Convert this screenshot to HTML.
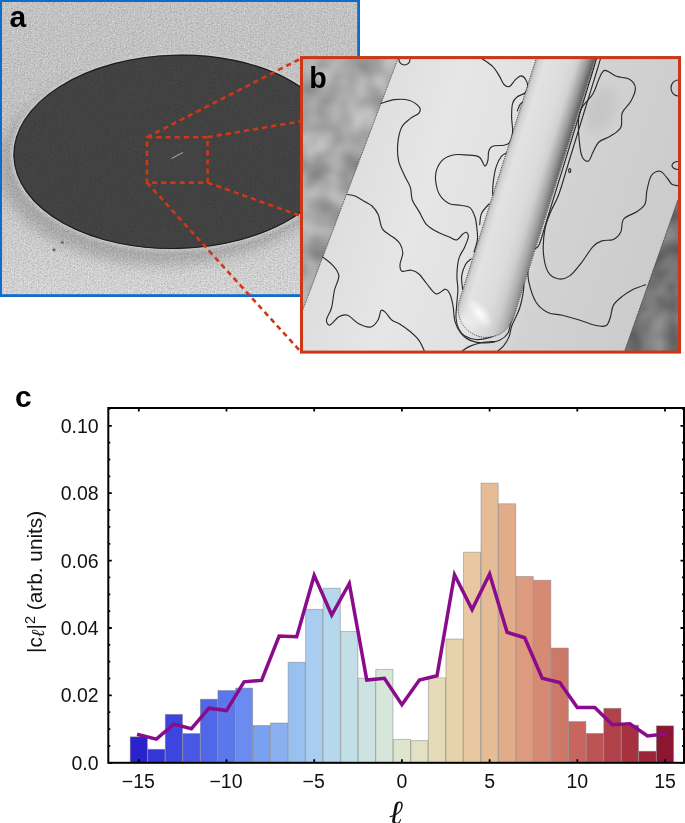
<!DOCTYPE html>
<html lang="en"><head><meta charset="utf-8"><title>Figure</title>
<style>
html,body{margin:0;padding:0;background:#fff;}
body{width:685px;height:823px;overflow:hidden;}
svg{display:block;}
text{font-family:"Liberation Sans",Arial,Helvetica,sans-serif;fill:#111;}
.lab{font-weight:bold;font-size:30px;fill:#000;}
.tk{font-size:19.5px;}
</style></head><body>
<svg width="685" height="823" viewBox="0 0 685 823">
<defs>
<filter id="grain" x="0" y="0" width="100%" height="100%" color-interpolation-filters="sRGB">
  <feTurbulence type="fractalNoise" baseFrequency="0.7" numOctaves="2" seed="3" result="n"/>
  <feColorMatrix in="n" type="matrix" values="0 0 0 0 0  0 0 0 0 0  0 0 0 0 0  0.9 0.9 0.9 0 -0.95" result="a"/>
  <feComposite in="a" in2="SourceGraphic" operator="in"/>
</filter>
<filter id="blotch" x="0" y="0" width="100%" height="100%" color-interpolation-filters="sRGB">
  <feTurbulence type="fractalNoise" baseFrequency="0.038" numOctaves="2" seed="7" result="n"/>
  <feGaussianBlur in="n" stdDeviation="1.6" result="nb"/>
  <feColorMatrix in="nb" type="matrix" values="0.44 0 0 0 0.44  0.44 0 0 0 0.44  0.44 0 0 0 0.44  0 0 0 0 1"/>
  <feComposite in2="SourceGraphic" operator="in"/>
</filter>
<filter id="blotch2" x="0" y="0" width="100%" height="100%" color-interpolation-filters="sRGB">
  <feTurbulence type="fractalNoise" baseFrequency="0.045" numOctaves="2" seed="11" result="n"/>
  <feGaussianBlur in="n" stdDeviation="1.4" result="nb"/>
  <feColorMatrix in="nb" type="matrix" values="0.32 0 0 0 0.30  0.32 0 0 0 0.30  0.32 0 0 0 0.30  0 0 0 0 1"/>
  <feComposite in2="SourceGraphic" operator="in"/>
</filter>
<filter id="soft"><feGaussianBlur stdDeviation="6"/></filter>
<filter id="soft1"><feGaussianBlur stdDeviation="1.3"/></filter>
<filter id="soft2"><feGaussianBlur stdDeviation="2.2"/></filter>
<linearGradient id="bgA" x1="0" y1="0" x2="0" y2="1">
  <stop offset="0" stop-color="#d5d5d5"/><stop offset="0.5" stop-color="#d4d4d4"/><stop offset="0.8" stop-color="#dedede"/><stop offset="1" stop-color="#e6e6e6"/>
</linearGradient>
<linearGradient id="rodG" x1="0" y1="0" x2="1" y2="0">
  <stop offset="0" stop-color="#b2b2b2"/>
  <stop offset="0.05" stop-color="#d2d2d2"/>
  <stop offset="0.16" stop-color="#e2e2e2"/>
  <stop offset="0.55" stop-color="#dcdcdc"/>
  <stop offset="0.76" stop-color="#cecece"/>
  <stop offset="0.9" stop-color="#b4b4b4"/>
  <stop offset="1" stop-color="#949494"/>
</linearGradient>
<linearGradient id="rodD" x1="0" y1="0" x2="1" y2="0">
  <stop offset="0" stop-color="#333" stop-opacity="0"/>
  <stop offset="0.70" stop-color="#333" stop-opacity="0"/>
  <stop offset="0.86" stop-color="#333" stop-opacity="0.22"/>
  <stop offset="0.96" stop-color="#333" stop-opacity="0.5"/>
  <stop offset="1" stop-color="#333" stop-opacity="0.6"/>
</linearGradient>
<linearGradient id="rodM" x1="0" y1="0" x2="0" y2="1">
  <stop offset="0" stop-color="#fff"/>
  <stop offset="0.45" stop-color="#fff" stop-opacity="0.85"/>
  <stop offset="0.8" stop-color="#fff" stop-opacity="0.25"/>
  <stop offset="1" stop-color="#fff" stop-opacity="0"/>
</linearGradient>
<mask id="rodMask" maskUnits="userSpaceOnUse" x="-40" y="-340" width="80" height="380">
  <rect x="-28" y="-330" width="56" height="358" rx="28" ry="28" fill="url(#rodM)"/>
</mask>
<linearGradient id="bandG" gradientUnits="userSpaceOnUse" x1="340" y1="150" x2="690" y2="260">
  <stop offset="0" stop-color="#dcdcdc"/><stop offset="0.25" stop-color="#e6e6e6"/>
  <stop offset="0.5" stop-color="#e0e0e0"/><stop offset="0.62" stop-color="#d2d2d2"/><stop offset="1" stop-color="#cacaca"/>
</linearGradient>
<linearGradient id="texG" x1="0" y1="0" x2="0" y2="1">
  <stop offset="0" stop-color="#fff" stop-opacity="0.06"/><stop offset="0.5" stop-color="#000" stop-opacity="0.05"/><stop offset="1" stop-color="#fff" stop-opacity="0.06"/>
</linearGradient>
<radialGradient id="tipG" cx="0.5" cy="0.5" r="0.5">
  <stop offset="0" stop-color="#fff" stop-opacity="0.95"/><stop offset="1" stop-color="#fff" stop-opacity="0"/>
</radialGradient>
<clipPath id="clipA"><rect x="1.5" y="1.5" width="357" height="294"/></clipPath>
<clipPath id="clipB"><rect x="301.5" y="57.5" width="378" height="294"/></clipPath>
</defs>
<rect width="685" height="823" fill="#fff"/>

<g id="panelA">
<rect x="0" y="0" width="360" height="297" fill="url(#bgA)"/>
<g clip-path="url(#clipA)">
<ellipse cx="168" cy="163" rx="170" ry="102" transform="rotate(-1.54 176.8 151.8)" fill="#adadad" opacity="0.75" filter="url(#soft)"/>
<ellipse cx="176.8" cy="151.8" rx="165" ry="98.7" transform="rotate(-1.54 176.8 151.8)" fill="none" stroke="#dcdcdc" stroke-width="4" opacity="0.55" filter="url(#soft1)"/>
<rect x="0" y="0" width="360" height="297" fill="#000" opacity="0.22" filter="url(#grain)"/>
<ellipse cx="176.8" cy="151.8" rx="163.9" ry="97.6" transform="rotate(-1.54 176.8 151.8)" fill="#484848" stroke="#dadada" stroke-opacity="0.75" stroke-width="1.5"/>
<ellipse cx="176.8" cy="151.8" rx="162.9" ry="96.6" transform="rotate(-1.54 176.8 151.8)" fill="none" stroke="#1e1e1e" stroke-width="1.1"/>
<ellipse cx="176.8" cy="151.8" rx="163.9" ry="97.6" transform="rotate(-1.54 176.8 151.8)" fill="#fff" opacity="0.2" filter="url(#grain)"/>
<rect x="152" y="142" width="50" height="36" fill="#4e4e4e" opacity="0.2" filter="url(#soft2)"/>
<line x1="171.5" y1="158.5" x2="183" y2="152.5" stroke="#bdbdbd" stroke-width="0.9"/>
<circle cx="54" cy="249.8" r="1.6" fill="#6a6a6a"/><circle cx="62.3" cy="242.5" r="1.5" fill="#707070"/>
</g>
<rect x="0.6" y="0.6" width="358" height="295" fill="none" stroke="#0f6cca" stroke-width="2.8"/>
<text class="lab" x="9.4" y="26.9">a</text>
</g>
<g fill="none" stroke="#cf3715" stroke-width="2.6" stroke-dasharray="5.2 4">
<rect x="147" y="137.2" width="60.6" height="45.4"/>
<line x1="147" y1="137.2" x2="301" y2="58.5"/>
<line x1="207.6" y1="137.2" x2="670" y2="58.5"/>
<line x1="207.6" y1="182.6" x2="681" y2="352"/>
<line x1="147" y1="182.6" x2="301" y2="352"/>
</g>
<g id="panelB">
<rect x="300" y="56" width="381" height="297" fill="#9a9a9a"/>
<g clip-path="url(#clipB)">
<rect x="300" y="56" width="381" height="297" fill="#fff" filter="url(#blotch)"/>
<rect x="300" y="56" width="110" height="297" fill="url(#texG)"/>
<polygon points="399,56 735,56 624,353 286.4,353" fill="url(#bandG)"/>
<polygon points="728.6,56 735,56 735,353 624,353" fill="#777"/>
<g><polygon points="728.6,56 735,56 735,353 624,353" fill="#fff" filter="url(#blotch2)"/></g>
<ellipse cx="600" cy="110" rx="14" ry="24" transform="rotate(25 600 110)" fill="#999" opacity="0.2" filter="url(#soft)"/>
<line x1="399" y1="56" x2="286.4" y2="353" stroke="#444" stroke-width="0.8" stroke-dasharray="1.5 1"/>
<line x1="728.6" y1="56" x2="624" y2="353" stroke="#444" stroke-width="0.8" stroke-dasharray="1.5 1"/>
<g fill="none" stroke="#2a2a2a" stroke-width="1.15" stroke-linejoin="round" stroke-linecap="round">
<path d="M381.1 103.4C383.3 102.8 389.7 100.1 394.3 99.6C398.9 99.1 404.8 99.0 408.9 100.2C413.0 101.4 417.4 104.8 419.1 106.9C420.8 109.0 420.6 110.8 419.1 112.8C417.6 114.8 413.2 116.2 410.3 118.6C407.4 121.0 403.7 123.3 401.6 127.4C399.5 131.5 398.3 137.8 397.8 143.4C397.3 149.0 397.5 155.6 398.6 160.9C399.7 166.2 402.6 171.1 404.5 175.5C406.4 179.9 409.0 183.1 410.3 187.2C411.6 191.3 410.9 196.0 412.3 200.0C413.8 204.0 416.6 207.3 419.0 211.4C421.4 215.5 423.4 221.2 426.6 224.7C429.8 228.2 434.2 230.2 438.0 232.3C441.8 234.4 446.2 235.7 449.3 237.0C452.4 238.3 454.7 240.4 456.9 239.9C459.1 239.4 461.0 235.5 462.6 234.2C464.2 232.9 465.4 231.8 466.4 232.3C467.3 232.8 468.6 234.5 468.3 237.0C468.0 239.5 466.1 243.8 464.5 247.4C462.9 251.0 460.1 254.1 458.8 258.8C457.5 263.6 457.0 270.8 456.9 275.9C456.8 281.0 457.9 284.8 457.9 289.2C457.9 293.6 457.2 297.8 456.9 302.5C456.6 307.2 455.7 313.3 456.0 317.7C456.3 322.1 457.4 326.0 458.8 329.0C460.2 332.0 461.6 333.9 464.5 335.7C467.4 337.4 471.8 339.2 475.9 339.5C480.0 339.8 485.4 338.7 489.2 337.6C493.0 336.5 496.3 334.2 498.7 332.8C501.1 331.4 502.6 329.6 503.4 329.0"/>
<path d="M347.6 194.5C348.8 194.8 352.0 194.8 354.9 196.0C357.8 197.2 362.2 200.1 365.1 201.8C368.0 203.5 369.8 203.9 372.0 206.0C374.2 208.1 376.4 210.7 378.2 214.6C380.0 218.5 379.9 225.3 382.6 229.2C385.3 233.1 391.4 235.6 394.3 238.0C397.2 240.4 398.6 241.2 400.0 243.7C401.4 246.2 402.8 249.6 402.8 253.1C402.8 256.6 400.1 261.5 400.0 264.5C399.9 267.5 400.0 270.2 401.9 271.2C403.8 272.1 408.5 269.7 411.4 270.2C414.2 270.7 416.5 271.8 419.0 274.0C421.5 276.2 423.8 280.2 426.6 283.5C429.5 286.8 433.0 292.9 436.1 293.9C439.2 294.8 443.1 289.0 445.5 289.2C447.9 289.4 449.0 292.0 450.3 294.9C451.6 297.8 452.3 301.9 453.1 306.3C453.9 310.7 453.7 317.1 455.0 321.5C456.3 325.9 458.2 329.7 460.7 332.8C463.2 335.9 466.1 338.7 470.2 340.4C474.2 342.1 480.0 343.1 485.0 343.0C490.0 342.9 496.2 341.7 500.0 340.0C503.8 338.3 506.2 336.0 508.0 333.0C509.8 330.0 509.7 326.4 511.0 322.0C512.3 317.6 514.5 311.4 515.8 306.3C517.1 301.2 518.1 293.6 518.6 291.1"/>
<path d="M322.7 256.9C324.4 258.4 330.3 262.5 333.0 265.7C335.7 268.9 338.6 271.8 338.8 275.9C339.0 280.0 335.6 285.1 334.4 290.5C333.2 295.9 332.8 303.1 331.5 308.0C330.2 312.9 326.8 316.9 326.5 319.7C326.2 322.5 327.9 325.5 330.0 325.0C332.1 324.5 335.9 318.4 338.8 316.8C341.7 315.2 344.2 314.1 347.6 315.3C351.0 316.5 355.3 322.2 359.2 324.1C363.1 326.1 367.7 327.7 370.9 327.0C374.1 326.3 376.5 322.5 378.2 319.7C379.9 316.9 379.9 311.6 381.1 310.4C382.3 309.2 383.8 310.8 385.5 312.4C387.2 313.9 389.0 317.7 391.4 319.7C393.8 321.7 397.0 322.4 400.0 324.3C403.0 326.2 406.3 328.3 409.5 331.0C412.7 333.7 416.5 336.9 419.0 340.4C421.5 343.9 423.8 349.9 424.7 351.8"/>
<path d="M482.2 58.8C483.9 60.1 489.8 63.6 492.6 66.4C495.5 69.2 497.4 72.9 499.3 75.9C501.2 78.9 502.3 82.8 504.0 84.5C505.7 86.2 507.8 87.2 509.7 86.4C511.6 85.6 513.5 81.5 515.4 79.7C517.3 78.0 519.4 75.9 521.1 75.9C522.8 75.9 524.7 77.8 525.8 79.7C526.9 81.6 527.9 85.1 527.7 87.3C527.6 89.5 526.6 91.4 524.9 93.0C523.2 94.6 519.3 95.1 517.3 96.8C515.2 98.5 513.5 100.1 512.6 103.4C511.7 106.7 511.6 112.0 511.6 116.7C511.6 121.5 512.9 127.6 512.6 131.9C512.3 136.2 511.1 140.2 509.7 142.4C508.3 144.6 506.9 144.6 504.0 145.2C501.1 145.8 495.1 145.2 492.6 146.2C490.1 147.1 489.6 148.5 488.8 150.9C488.0 153.3 488.5 157.9 487.9 160.4C487.3 162.9 485.9 165.9 485.0 166.1C484.1 166.2 483.3 162.9 482.2 161.3C481.1 159.7 480.8 157.6 478.4 156.6C476.0 155.6 471.9 155.4 468.0 155.1C464.1 154.8 458.8 154.0 454.7 154.7C450.6 155.4 446.3 156.9 443.3 159.4C440.3 161.9 437.9 166.2 436.6 169.9C435.3 173.6 435.2 177.2 435.7 181.3C436.2 185.4 437.3 190.8 439.5 194.5C441.7 198.2 445.5 201.7 449.0 203.5C452.5 205.3 456.9 204.6 460.4 205.3C463.9 206.0 467.5 205.7 469.9 207.6C472.3 209.5 473.8 213.5 475.0 217.0C476.2 220.5 476.5 224.7 476.9 228.5C477.3 232.3 477.9 236.0 477.4 239.9C476.9 243.8 474.6 250.0 474.0 252.0"/>
<path d="M517.3 111.0C517.8 109.9 519.0 106.0 520.1 104.4C521.2 102.8 523.3 102.0 523.9 101.5"/>
<path d="M506.9 152.8C505.9 153.4 502.9 154.4 501.2 156.6C499.4 158.8 497.7 162.3 496.4 166.1C495.1 169.9 494.2 175.0 493.6 179.4C493.0 183.8 492.6 189.8 492.6 192.6C492.6 195.4 493.4 195.8 493.6 196.4"/>
<path d="M479.7 224.7C480.0 222.8 480.0 216.8 481.6 213.3C483.2 209.8 487.9 205.4 489.2 203.8"/>
<path d="M462.6 289.2C462.5 287.0 461.2 280.0 461.7 275.9C462.2 271.8 463.9 267.4 465.5 264.5C467.1 261.6 470.2 259.8 471.2 258.8"/>
<path d="M604.7 70.4C607.6 69.9 612.3 74.8 616.4 76.3C620.5 77.8 626.3 77.2 629.5 79.2C632.7 81.2 635.1 84.3 635.4 88.0C635.6 91.7 633.2 97.0 631.0 101.1C628.8 105.2 623.9 108.4 622.2 112.8C620.5 117.2 622.8 123.5 620.8 127.4C618.8 131.3 614.1 133.7 610.5 136.1C606.9 138.5 601.8 139.3 598.9 142.0C596.0 144.7 594.7 149.0 593.0 152.2C591.3 155.4 590.3 160.0 588.6 161.0C586.9 162.0 584.2 160.4 582.8 158.0C581.3 155.6 580.6 152.2 579.9 146.4C579.2 140.6 578.1 129.3 578.4 123.0C578.6 116.7 579.0 113.3 581.4 108.4C583.8 103.5 590.1 98.7 593.0 93.8C595.9 88.9 596.9 83.1 598.9 79.2C600.9 75.3 601.8 70.9 604.7 70.4Z"/>
<path d="M678.0 185.8C677.0 185.6 673.6 185.5 671.9 184.3C670.1 183.1 669.5 180.7 667.5 178.5C665.5 176.3 662.9 171.7 660.2 171.2C657.5 170.7 653.6 172.3 651.4 175.5C649.2 178.7 648.1 185.3 647.0 190.1C645.9 194.8 646.7 200.4 645.0 204.0C643.3 207.6 640.3 209.2 636.8 211.7C633.2 214.2 626.4 215.6 623.7 219.0C621.0 222.4 622.5 228.7 620.8 232.1C619.1 235.5 616.7 237.9 613.5 239.4C610.3 240.9 605.2 239.7 601.8 240.9C598.4 242.1 596.4 243.0 593.0 246.7C589.6 250.3 585.3 257.9 581.4 262.8C577.5 267.7 573.6 273.2 569.7 275.9C565.8 278.6 561.6 279.5 558.0 278.8C554.4 278.1 550.2 275.9 547.8 271.5C545.4 267.1 543.9 259.6 543.4 252.6C542.9 245.5 543.7 236.0 544.9 229.2C546.1 222.4 548.4 217.4 550.7 211.7C553.0 206.0 555.7 202.8 558.6 195.0C561.5 187.2 564.8 175.0 567.9 165.0C571.0 155.0 574.0 145.0 577.1 135.0C580.2 125.0 583.2 115.0 586.3 105.0C589.4 95.0 593.1 83.0 595.6 75.0C598.1 67.0 600.1 60.0 601.0 57.0"/>
<path d="M496.8 351.8C497.9 350.9 501.3 348.6 503.4 346.1C505.4 343.6 507.7 340.1 509.1 336.6C510.5 333.1 510.2 330.0 512.0 325.3C513.8 320.6 517.7 313.9 519.6 308.2C521.5 302.5 522.6 296.5 523.4 291.1C524.2 285.7 523.6 280.6 524.3 275.9C524.9 271.2 526.5 261.8 527.3 262.8C528.0 263.8 527.3 275.2 528.8 281.8C530.3 288.4 532.9 297.1 536.1 302.2C539.3 307.3 543.4 310.2 547.8 312.4C552.2 314.6 557.3 314.1 562.4 315.3C567.5 316.5 572.8 318.0 578.4 319.7C584.0 321.4 591.4 324.5 596.0 325.5C600.6 326.5 603.8 326.9 606.2 325.5C608.6 324.1 609.3 320.2 610.5 316.8C611.7 313.4 611.5 308.5 613.5 305.1C615.5 301.7 618.8 299.1 622.2 296.4C625.6 293.7 630.0 291.1 633.9 289.1C637.8 287.2 643.6 285.4 645.6 284.7"/>
<path d="M527.3 262.8C528.2 260.7 531.0 253.0 533.0 250.0C535.0 247.0 536.7 250.0 539.0 245.0C541.3 240.0 544.1 228.8 546.9 220.0C549.6 211.2 552.5 201.7 555.5 192.0C558.5 182.3 561.7 172.0 564.8 162.0C567.9 152.0 570.9 142.0 574.0 132.0C577.1 122.0 580.2 112.0 583.3 102.0C586.4 92.0 590.2 79.5 592.5 72.0C594.8 64.5 596.2 59.5 597.0 57.0"/>
<path d="M460.7 351.8C462.3 350.9 466.7 347.6 470.2 346.1C473.7 344.6 477.5 343.6 481.6 342.8C485.7 342.0 492.7 341.7 494.9 341.5"/>
<path d="M424.7 351.6C427.4 351.7 438.3 351.9 441.0 352.0"/>
<path d="M460.7 351.6C461.8 351.7 465.9 351.9 467.0 352.0"/>
<path d="M496.8 351.6C500.3 351.7 514.5 351.9 518.0 352.0"/>
<circle cx="404.5" cy="59.5" r="5.5"/>
<ellipse cx="678" cy="88" rx="7" ry="8"/>
<ellipse cx="678" cy="165.5" rx="6" ry="4"/>
<ellipse cx="569.7" cy="170.6" rx="1.1" ry="2"/>
</g>
<g transform="translate(486.5 309) rotate(17.6)">
<rect x="-28" y="-330" width="56" height="358" rx="28" ry="28" fill="url(#rodG)"/>
<rect x="-28" y="-330" width="56" height="358" fill="url(#rodD)" mask="url(#rodMask)"/>
<rect x="-28.4" y="-330" width="56.8" height="358.4" rx="28.4" ry="28.4" fill="none" stroke="#3a3a3a" stroke-width="0.8" stroke-dasharray="1.4 1"/>
</g>
<ellipse cx="479.5" cy="313.5" rx="19" ry="9" transform="rotate(52 479.5 313.5)" fill="url(#tipG)"/>
<ellipse cx="470" cy="322" rx="16" ry="13" fill="url(#tipG)" opacity="0.45"/>
</g>
<rect x="301.5" y="57.6" width="378" height="294.5" fill="none" stroke="#cc3716" stroke-width="3"/>
<text class="lab" x="309.2" y="87.7" style="font-size:28.6px">b</text>
</g>
<g id="panelC">
<text class="lab" x="15" y="406.9">c</text>
<g stroke="#7a7a7a" stroke-opacity="0.5" stroke-width="0.9">
<rect x="130.23" y="736.85" width="17.14" height="25.95" fill="#2a22cc"/>
<rect x="147.77" y="749.32" width="17.14" height="13.48" fill="#3336d8"/>
<rect x="165.31" y="714.41" width="17.14" height="48.39" fill="#3c45de"/>
<rect x="182.85" y="733.58" width="17.14" height="29.22" fill="#4858e4"/>
<rect x="200.39" y="699.21" width="17.14" height="63.59" fill="#5068e8"/>
<rect x="217.93" y="690.51" width="17.14" height="72.29" fill="#5a78ec"/>
<rect x="235.47" y="688.15" width="17.14" height="74.65" fill="#6a8cf0"/>
<rect x="253.01" y="725.56" width="17.14" height="37.24" fill="#7aa0f0"/>
<rect x="270.55" y="723.03" width="17.14" height="39.77" fill="#8ab0f0"/>
<rect x="288.09" y="662.27" width="17.14" height="100.53" fill="#98c0f0"/>
<rect x="305.63" y="609.33" width="17.14" height="153.47" fill="#a8cdf0"/>
<rect x="323.17" y="588.23" width="17.14" height="174.57" fill="#b5d8ec"/>
<rect x="340.71" y="631.54" width="17.14" height="131.26" fill="#c2dfe8"/>
<rect x="358.25" y="678.31" width="17.14" height="84.49" fill="#cde3e2"/>
<rect x="375.79" y="669.38" width="17.14" height="93.42" fill="#d6e6d9"/>
<rect x="393.33" y="739.38" width="17.14" height="23.42" fill="#dde5cf"/>
<rect x="410.87" y="740.66" width="17.14" height="22.14" fill="#e2e1c4"/>
<rect x="428.41" y="677.81" width="17.14" height="84.99" fill="#e6dbb8"/>
<rect x="445.95" y="639.05" width="17.14" height="123.75" fill="#e8d2ac"/>
<rect x="463.49" y="552.24" width="17.14" height="210.56" fill="#e8c8a0"/>
<rect x="481.03" y="483.16" width="17.14" height="279.64" fill="#e6bc96"/>
<rect x="498.57" y="503.78" width="17.14" height="259.02" fill="#e2ac8a"/>
<rect x="516.11" y="576.57" width="17.14" height="186.23" fill="#dc9a7e"/>
<rect x="533.65" y="580.28" width="17.14" height="182.52" fill="#d68a74"/>
<rect x="551.19" y="648.05" width="17.14" height="114.75" fill="#ce7868"/>
<rect x="568.73" y="721.62" width="17.14" height="41.18" fill="#c6665e"/>
<rect x="586.27" y="733.48" width="17.14" height="29.32" fill="#bc5454"/>
<rect x="603.81" y="708.34" width="17.14" height="54.46" fill="#b2424a"/>
<rect x="621.35" y="725.26" width="17.14" height="37.54" fill="#a63240"/>
<rect x="638.89" y="751.27" width="17.14" height="11.53" fill="#9a2438"/>
<rect x="656.43" y="725.86" width="17.14" height="36.94" fill="#8c1630"/>
</g>
<polyline points="138.8,734.7 156.3,739.2 173.9,724.1 191.4,728.7 209.0,708.2 226.5,710.6 244.0,681.8 261.6,680.4 279.1,636.0 296.7,636.7 314.2,575.4 331.7,615.0 349.3,583.5 366.8,680.1 384.4,678.3 401.9,704.7 419.4,680.0 437.0,675.8 454.5,574.8 472.1,609.6 489.6,574.1 507.1,632.3 524.7,637.8 542.2,678.3 559.8,682.6 577.3,707.5 594.8,707.5 612.4,724.7 629.9,723.8 647.5,736.0 665.0,733.9" fill="none" stroke="#8a0c8c" stroke-width="3.5" stroke-linejoin="miter" stroke-linecap="square"/>
<g stroke="#000" fill="none">
<rect x="108.3" y="408.0" width="575.7" height="354.8" stroke-width="2"/>
<path d="M108.3 762.8h3.5M684.0 762.8h-3.5M108.3 745.9h2.0M684.0 745.9h-2.0M108.3 729.1h2.0M684.0 729.1h-2.0M108.3 712.2h2.0M684.0 712.2h-2.0M108.3 695.4h3.5M684.0 695.4h-3.5M108.3 678.5h2.0M684.0 678.5h-2.0M108.3 661.7h2.0M684.0 661.7h-2.0M108.3 644.8h2.0M684.0 644.8h-2.0M108.3 628.0h3.5M684.0 628.0h-3.5M108.3 611.1h2.0M684.0 611.1h-2.0M108.3 594.3h2.0M684.0 594.3h-2.0M108.3 577.4h2.0M684.0 577.4h-2.0M108.3 560.6h3.5M684.0 560.6h-3.5M108.3 543.8h2.0M684.0 543.8h-2.0M108.3 526.9h2.0M684.0 526.9h-2.0M108.3 510.0h2.0M684.0 510.0h-2.0M108.3 493.2h3.5M684.0 493.2h-3.5M108.3 476.3h2.0M684.0 476.3h-2.0M108.3 459.5h2.0M684.0 459.5h-2.0M108.3 442.6h2.0M684.0 442.6h-2.0M108.3 425.8h3.5M684.0 425.8h-3.5M108.3 408.9h2.0M684.0 408.9h-2.0M138.8 762.8v-3.5M138.8 408.0v3.5M226.5 762.8v-3.5M226.5 408.0v3.5M314.2 762.8v-3.5M314.2 408.0v3.5M401.9 762.8v-3.5M401.9 408.0v3.5M489.6 762.8v-3.5M489.6 408.0v3.5M577.3 762.8v-3.5M577.3 408.0v3.5M665.0 762.8v-3.5M665.0 408.0v3.5" stroke-width="1.8"/>
</g>
<text class="tk" x="98.6" y="769.8" text-anchor="end">0.0</text>
<text class="tk" x="98.6" y="702.4" text-anchor="end">0.02</text>
<text class="tk" x="98.6" y="635.0" text-anchor="end">0.04</text>
<text class="tk" x="98.6" y="567.6" text-anchor="end">0.06</text>
<text class="tk" x="98.6" y="500.2" text-anchor="end">0.08</text>
<text class="tk" x="98.6" y="432.8" text-anchor="end">0.10</text>
<text class="tk" x="138.3" y="787.9" text-anchor="middle">−15</text>
<text class="tk" x="226.0" y="787.9" text-anchor="middle">−10</text>
<text class="tk" x="313.7" y="787.9" text-anchor="middle">−5</text>
<text class="tk" x="401.9" y="787.9" text-anchor="middle">0</text>
<text class="tk" x="489.6" y="787.9" text-anchor="middle">5</text>
<text class="tk" x="577.3" y="787.9" text-anchor="middle">10</text>
<text class="tk" x="665.0" y="787.9" text-anchor="middle">15</text>
<text x="395.9" y="823.8" text-anchor="middle" style="font-family:'Liberation Serif',serif;font-style:italic;font-size:34px">ℓ</text>
<text transform="translate(42.2 653) rotate(-90)" style="font-size:20.8px">|c<tspan style="font-family:'Liberation Serif',serif;font-style:italic;font-size:18.5px" dy="1.5">ℓ</tspan><tspan dy="-1.5">|</tspan><tspan font-size="14.5" dy="-7.5">2</tspan><tspan dy="7.5"> (arb. units)</tspan></text>
</g>
</svg>
</body></html>
